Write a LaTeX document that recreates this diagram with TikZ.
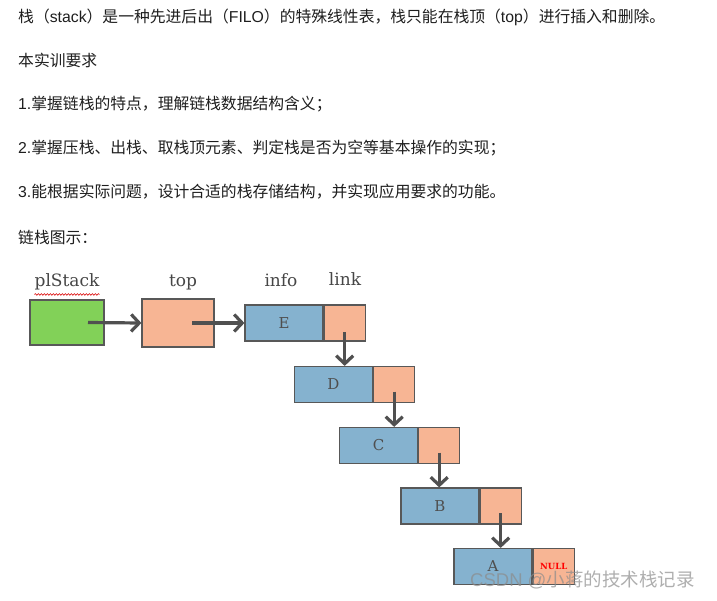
\documentclass[tikz,border=0pt]{standalone}
\usepackage{fontspec}
\setmainfont{DejaVu Serif}
\newfontfamily\cjk{Noto Sans CJK SC}
\newfontfamily\lat{Liberation Sans}
\usetikzlibrary{arrows.meta,decorations.pathmorphing,calc}
\definecolor{gbox}{RGB}{130,209,88}
\definecolor{sbox}{RGB}{247,181,148}
\definecolor{bbox}{RGB}{133,178,207}
\definecolor{edge}{RGB}{88,88,88}
\definecolor{arrc}{RGB}{80,80,80}
\definecolor{txt}{RGB}{30,30,30}
\begin{document}
\begin{tikzpicture}[x=1pt,y=-1pt,
  para/.style={anchor=west,inner sep=0pt,font=\fontsize{15.8}{18}\selectfont\cjk,text=txt},
  cell/.style={draw=edge,line width=1.2pt,inner sep=0pt,minimum height=36pt,font=\fontsize{15}{17}\selectfont,text=edge!90!black},
  infobox/.style={cell,fill=bbox,minimum width=78pt},
  linkbox/.style={cell,fill=sbox,minimum width=41pt,anchor=west},
  lbl/.style={inner sep=0pt,font=\fontsize{17}{20}\selectfont,text=edge!80!black},
  arr/.style={draw=arrc,line width=3.2pt,-{Straight Barb[length=8pt,width=17pt]}}]
\useasboundingbox (0,0) rectangle (717,600);
% text
\node[para] (t1) at (18,17) {栈（{\lat stack}）是一种先进后出（{\lat FILO}）的特殊线性表，栈只能在栈顶（{\lat top}）进行插入和删除。};
\node[para] (t2) at (18,60) {本实训要求};
\node[para] (t3) at (18,104) {{\lat 1.}掌握链栈的特点，理解链栈数据结构含义；};
\node[para] (t4) at (18,148) {{\lat 2.}掌握压栈、出栈、取栈顶元素、判定栈是否为空等基本操作的实现；};
\node[para] (t5) at (18,192) {{\lat 3.}能根据实际问题，设计合适的栈存储结构，并实现应用要求的功能。};
\node[para] (t6) at (18,237) {链栈图示：};
% labels
\node[lbl] (lps) at (67,282) {plStack};
\node[lbl] (ltop) at (183,282) {top};
\node[lbl] (linfo) at (281,280) {info};
\node[lbl] (llink) at (345,279) {link};
\draw[red!85!black,line width=0.6pt,decorate,decoration={snake,segment length=3pt,amplitude=0.8pt}] ([yshift=-4pt]lps.south west) -- ([yshift=-4pt]lps.south east);
% boxes
\node[cell,fill=gbox,minimum width=74pt,minimum height=45pt] (ps) at (67,322.5) {};
\node[cell,fill=sbox,minimum width=72pt,minimum height=48pt] (tp) at (178,323) {};
\node[infobox] (Ei) at (284,323) {E};
\node[linkbox] (El) at (Ei.east) {};
\node[infobox] (Di) at (333.5,384.5) {D};
\node[linkbox] (Dl) at (Di.east) {};
\node[infobox] (Ci) at (378.5,445.5) {C};
\node[linkbox] (Cl) at (Ci.east) {};
\node[infobox] (Bi) at (440,506) {B};
\node[linkbox] (Bl) at (Bi.east) {};
\node[infobox] (Ai) at (493,566.5) {A};
\node[linkbox,text=red,font=\fontsize{8.5}{9}\selectfont\bfseries] (Al) at (Ai.east) {NULL};
% arrows
\draw[arr] ([xshift=21pt]ps.center) -- (tp.west);
\draw[arr] ([xshift=14pt]tp.center) -- (Ei.west);
\draw[arr] ([yshift=-9pt]El.center) -- (El.center |- Di.north);
\draw[arr] ([yshift=-7pt]Dl.center) -- (Dl.center |- Ci.north);
\draw[arr] ([yshift=-7pt]Cl.center) -- (Cl.center |- Bi.north);
\draw[arr] ([yshift=-7pt]Bl.center) -- (Bl.center |- Ai.north);
% watermark
\node[anchor=west,inner sep=0pt,font=\fontsize{18.5}{21}\selectfont\cjk,text=black!45,opacity=0.7] (wm) at (470,580) {{\lat CSDN @}小蒋的技术栈记录};
\end{tikzpicture}
\end{document}
